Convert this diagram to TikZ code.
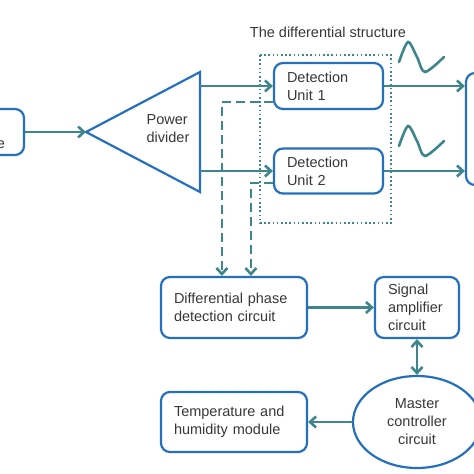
\documentclass[tikz,border=0pt]{standalone}
\usepackage{fontspec}
\setmainfont{Liberation Sans}
\usetikzlibrary{arrows.meta}
\usetikzlibrary{shapes.geometric}
\definecolor{boxblue}{RGB}{36,112,188}
\definecolor{linkteal}{RGB}{62,134,140}
\definecolor{txtgray}{RGB}{55,55,55}

\begin{document}
\begin{tikzpicture}[x=1pt,y=-1pt,>={Straight Barb[length=6pt,width=11pt]},
    every node/.style={font=\fontsize{14.5}{18}\selectfont, text=txtgray},
    unitbox/.style={draw=boxblue, line width=2.2pt, rounded corners=9pt, inner xsep=13pt, inner ysep=0pt, align=left},
    link/.style={draw=linkteal, line width=2.6pt},
    dashlink/.style={link, dash pattern=on 9pt off 5pt}]
        \useasboundingbox (0,0) rectangle (474,474);
        % source (cut off at the left edge)
        \node[unitbox, minimum width=74pt, minimum height=46pt] (src) at (-13,132) {};
        \node (srctxt) at (1,145) {e};
        % power divider
        \draw[boxblue, line width=2.2pt] (86,132) coordinate (dvtip)--(200,72)--(200,192)--cycle;
        \coordinate (dvtop) at (200,86);
        \coordinate (dvbot) at (200,171);
        \node[align=left] (dvtxt) at (168,129) {Power\\divider};
        % differential structure
        \draw[linkteal, line width=2pt, dash pattern=on 1.6pt off 2.6pt] (260,55) rectangle (391,223);
        \node (title) at (328,32) {The differential structure};
        \node[unitbox, text width=83pt, minimum height=46pt] (unit1) at (328.5,86) {Detection\\Unit 1};
        \node[unitbox, text width=83pt, minimum height=45pt] (unit2) at (328.5,171) {Detection\\Unit 2};
        \node[unitbox, minimum width=54pt, minimum height=112pt] (rbox) at (493,129) {};
        \foreach \dy in {0,84}
            \draw[link, line cap=round] plot[smooth] coordinates {(399,62+\dy) (408,42+\dy) (417,57+\dy) (425,72+\dy) (444,57+\dy)};
        % lower circuits
        \node[unitbox, text width=120pt, minimum height=61pt] (phase) at (234,307.5) {Differential phase\\detection circuit};
        \node[unitbox, text width=58pt, minimum height=61pt] (amp) at (417,307.5) {Signal\\amplifier\\circuit};
        \node[ellipse, draw=boxblue, line width=2.2pt, minimum width=128pt, minimum height=92pt, inner sep=0pt, align=center] (master) at (417,422) {Master\\controller\\circuit};
        \node[unitbox, text width=120pt, minimum height=60pt] (temp) at (234,422) {Temperature and\\humidity module};
        % connectors
        \draw[link, ->] (src.east)--(dvtip);
        \draw[link, ->] (dvtop)--(unit1.west);
        \draw[link, ->] (dvbot)--(unit2.west);
        \draw[link, ->] (unit1.east)--(unit1.east -| rbox.west);
        \draw[link, ->] (unit2.east)--(unit2.east -| rbox.west);
        \draw[dashlink, ->] ([yshift=8pt]unit1.south west) -| ([xshift=62pt]phase.north west);
        \draw[dashlink, ->] ([yshift=-12pt]unit2.west) -| ([xshift=91pt]phase.north west);
        \draw[link, ->] (phase.east)--(amp.west);
        \draw[link, <->] (amp.south)--(master.north);
        \draw[link, ->] (master.west)--(temp.east);
    \end{tikzpicture}
\end{document}
